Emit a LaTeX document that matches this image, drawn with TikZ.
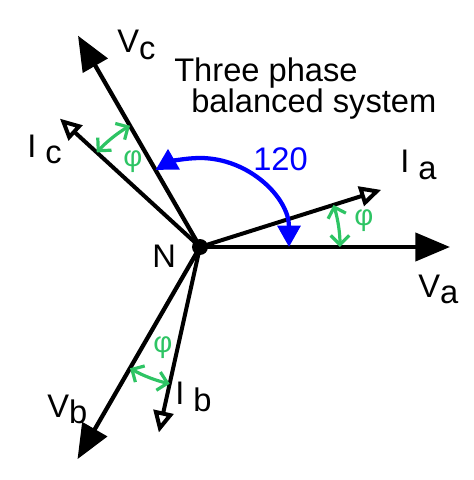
\documentclass[tikz,border=0pt]{standalone}
\usepackage{fontspec}
\setmainfont{Liberation Sans}
\usetikzlibrary{arrows.meta}
\definecolor{phigreen}{RGB}{46,196,100}
\newcommand{\lowr}[1]{\raisebox{-5pt}{#1}}

\begin{document}
\begin{tikzpicture}[x=0.75pt,y=0.75pt,
  txt/.style={inner sep=0pt,anchor=base west,font=\fontsize{24.5}{29}\selectfont},
  phi/.style={inner sep=0pt,text=phigreen,font=\fontsize{22}{26}\selectfont},
  vphasor/.style={line width=3.2pt,-{Triangle[length=26pt,width=21pt]}},
  iphasor/.style={line width=3pt,-{Triangle[open,length=16pt,width=15pt]}},
  angarr/.style={phigreen,line width=2.4pt,{Straight Barb[length=7pt,width=14pt]}-{Straight Barb[length=7pt,width=14pt]}}]
\useasboundingbox (0,0) rectangle (474,480);
% neutral point and phasor tips
\node[circle,fill,inner sep=0pt,minimum size=12pt] (N) at (200,233) {};
\path (N.center) ++(0:250) coordinate (va);
\path (N.center) ++(120:244) coordinate (vc);
\path (N.center) ++(240:245) coordinate (vb);
\path (N.center) ++(17.5:190) coordinate (ia);
\path (N.center) ++(137.5:190) coordinate (ic);
\path (N.center) ++(257.5:190) coordinate (ib);
% voltages
\draw[vphasor] (N.center) -- (va);
\draw[vphasor] (N.center) -- (vc);
\draw[vphasor] (N.center) -- (vb);
% currents
\draw[iphasor] (N.center) -- (ia);
\draw[iphasor] (N.center) -- (ic);
\draw[iphasor] (N.center) -- (ib);
% phase angles
\draw[angarr] (N.center) ++(0:140) arc[start angle=0,end angle=17.5,radius=140];
\draw[angarr] (N.center) ++(120:140) arc[start angle=120,end angle=137.5,radius=140];
\draw[angarr] (N.center) ++(240:140) arc[start angle=240,end angle=257.5,radius=140];
\draw[blue,line width=3.2pt,{Triangle[length=16pt,width=17pt]}-{Triangle[length=16pt,width=17pt]}]
  (N.center) ++(0:89) arc[start angle=0,end angle=120,radius=89];
% labels
\node[txt] (title1) at (174,398) {Three phase};
\node[txt] (title2) at (191,368) {balanced system};
\node[txt,text=blue] (deg) at (253,310) {120};
\node[txt] (nlab) at (152,213) {N};
\node[txt] (valab) at (418,183) {V\lowr{a}};
\node[txt] (vclab) at (117,427) {V\lowr{c}};
\node[txt] (vblab) at (47,63) {V\lowr{b}};
\node[txt] (ialab) at (400,307) {I \lowr{a}};
\node[txt] (iclab) at (27,323) {I \lowr{c}};
\node[txt] (iblab) at (175,75) {I \lowr{b}};
\node[phi] (phia) at (364,259) {φ};
\node[phi] (phic) at (133,318) {φ};
\node[phi] (phib) at (163,132) {φ};
\end{tikzpicture}
\end{document}
